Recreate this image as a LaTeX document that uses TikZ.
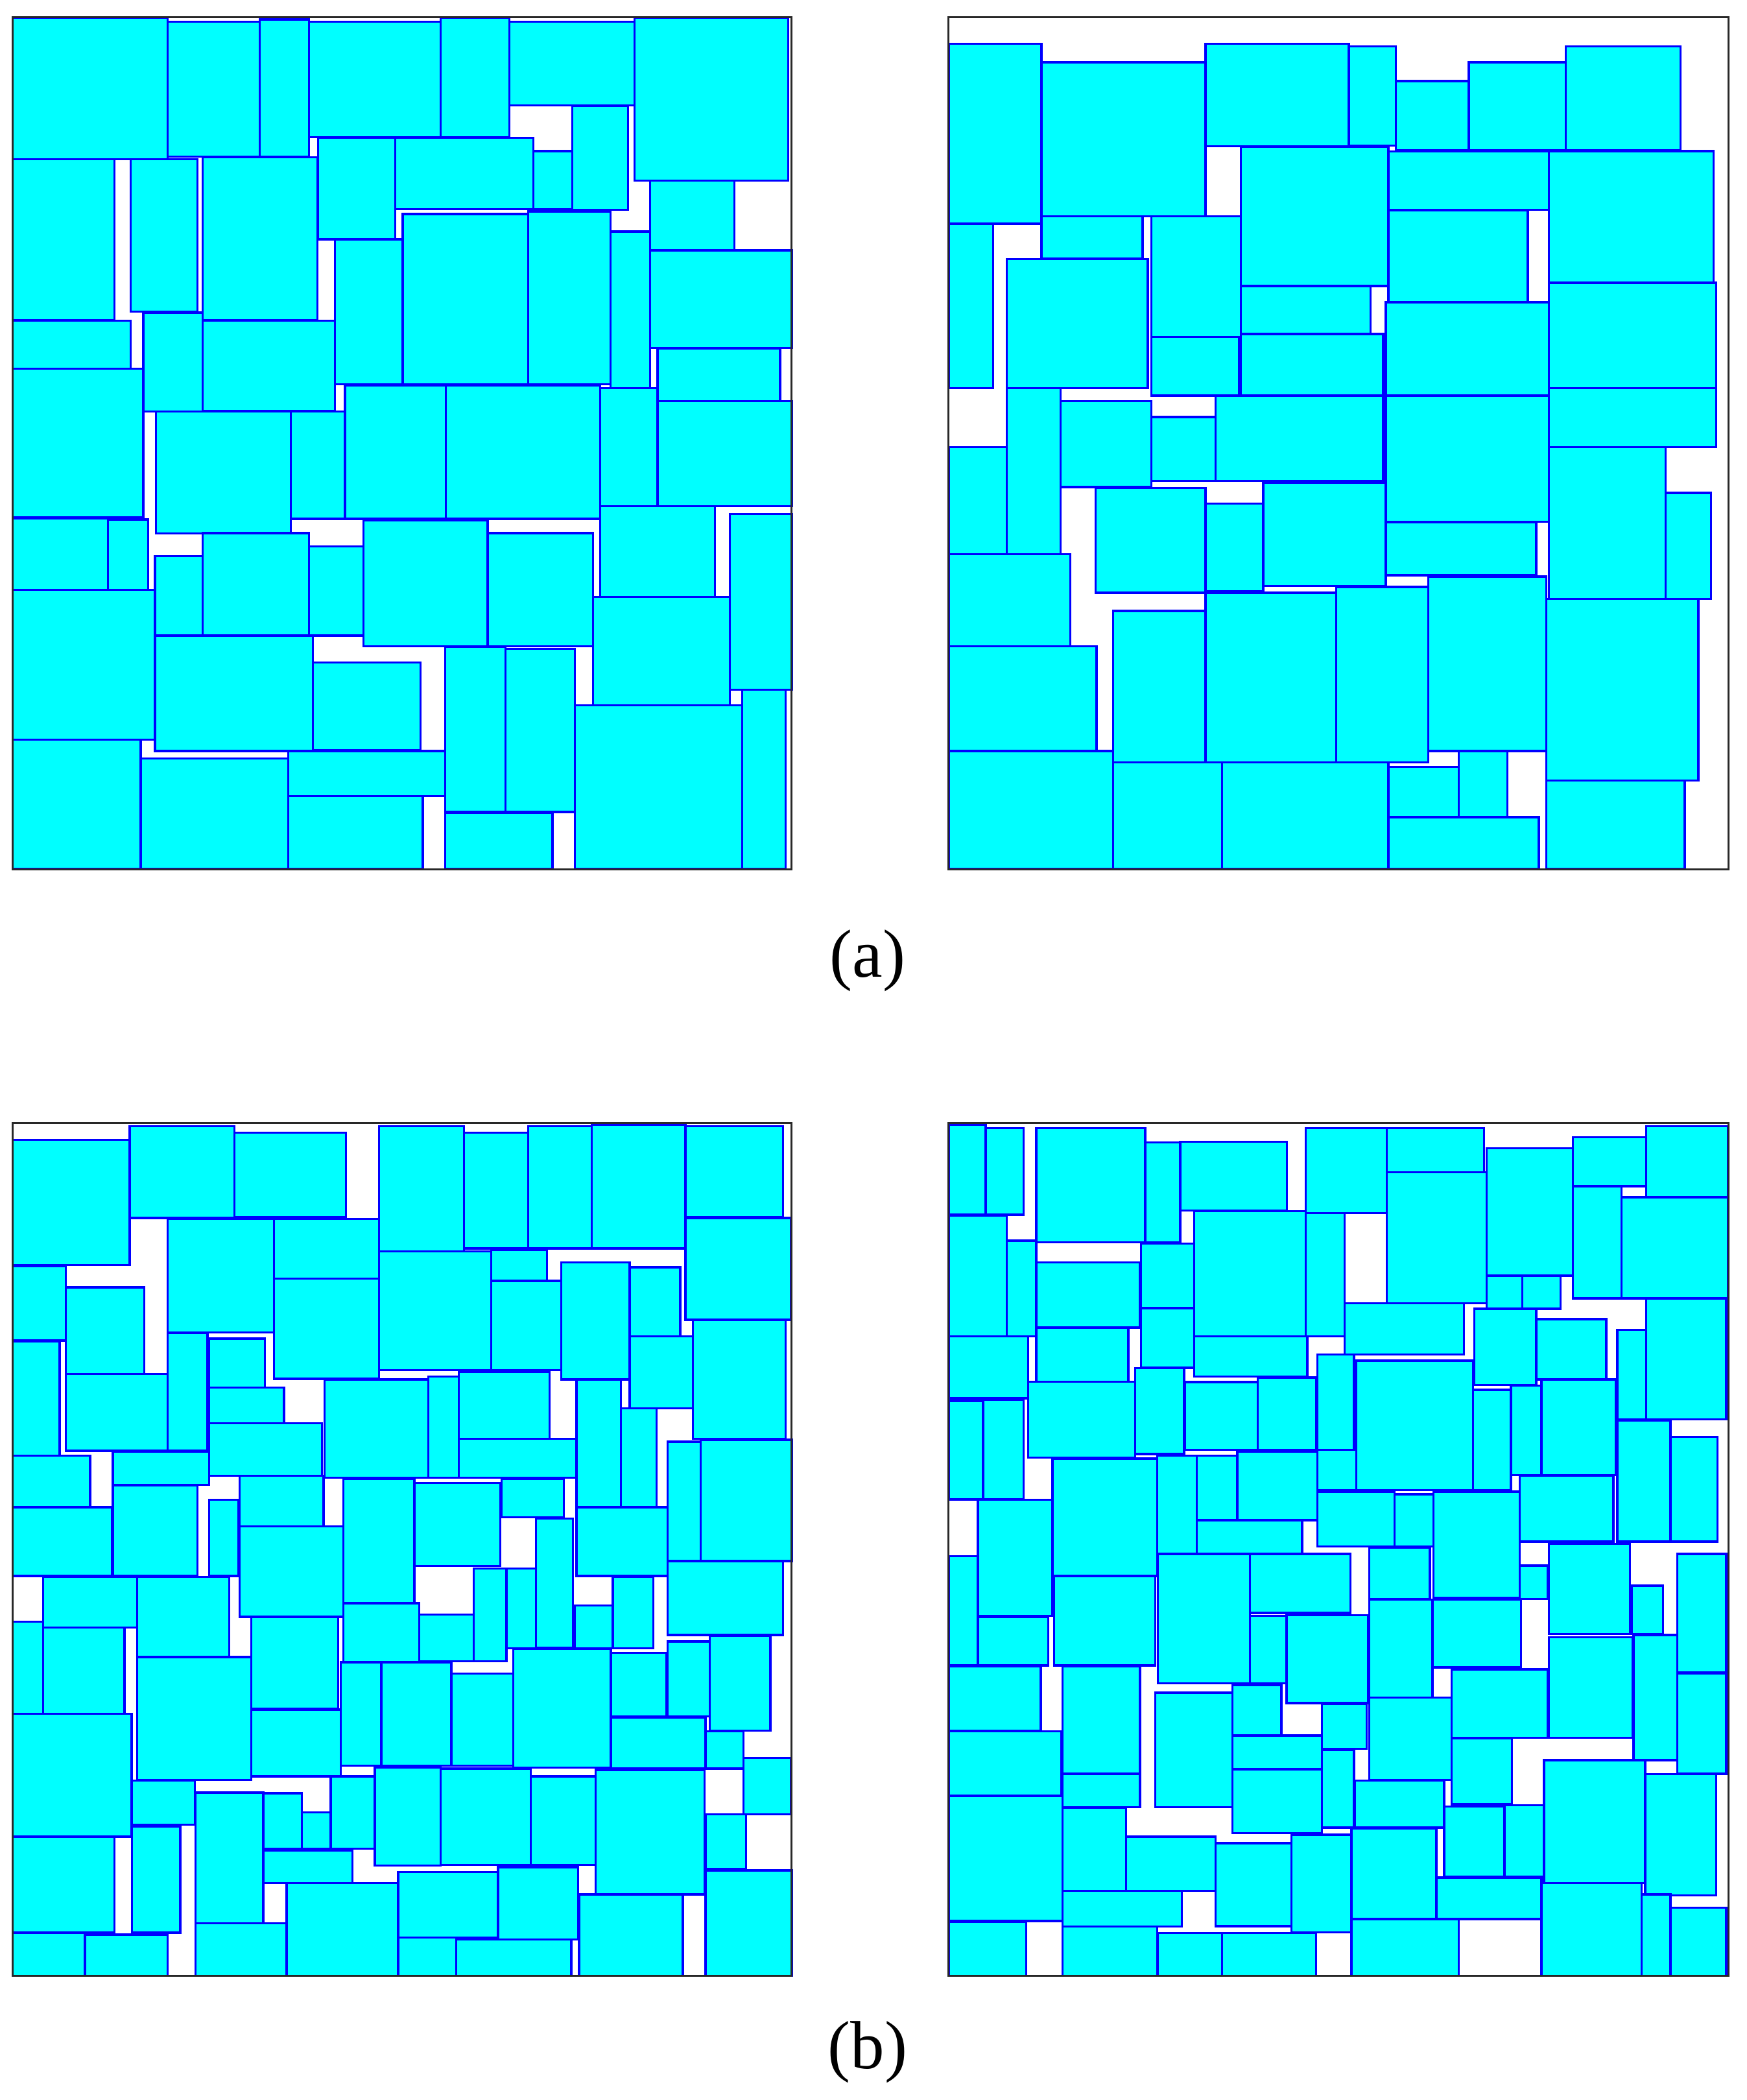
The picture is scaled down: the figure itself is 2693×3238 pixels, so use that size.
\documentclass[tikz,border=0pt]{standalone}
\usepackage{fontspec}
\setmainfont{Liberation Serif}
\definecolor{boxfill}{RGB}{0,255,255}
\definecolor{boxline}{RGB}{0,0,255}
\definecolor{frameline}{RGB}{40,40,40}
\newcommand\lowr[1]{\yoff+1.015*#1}
\newcommand\bxr[4]{\draw[bx] (#1,{#2}) rectangle (#3,{#4});}
\begin{document}
\begin{tikzpicture}[x=1pt,y=-1pt,
  bx/.style={fill=boxfill, draw=boxline, line width=3.4pt},
  frm/.style={draw=frameline, line width=3pt},
  lbl/.style={font=\fontsize{105}{126}\selectfont, anchor=base, inner sep=0pt}]
\useasboundingbox (0,0) rectangle (2693,3238);
% ---------------- panel top-left ----------------
\def\yoff{1533}
\begin{scope}[shift={(10,15)}, xscale=0.78125, yscale=0.4273]
\bxr{12}{28}{318}{540}
\bxr{318}{43}{500}{530}
\bxr{500}{35}{597}{530}
\bxr{597}{43}{857}{460}
\bxr{857}{28}{993}{460}
\bxr{993}{43}{1240}{345}
\bxr{1240}{28}{1543}{617}
\bxr{1117}{347}{1227}{722}
\bxr{1040}{510}{1117}{720}
\bxr{615}{462}{767}{828}
\bxr{767}{462}{1040}{720}
\bxr{12}{540}{213}{1120}
\bxr{245}{540}{377}{1090}
\bxr{387}{533}{614}{1120}
\bxr{12}{1122}{245}{1295}
\bxr{270}{1093}{387}{1450}
\bxr{387}{1122}{648}{1448}
\bxr{12}{1296}{270}{\lowr{295}}
\bxr{648}{828}{782}{1352}
\bxr{782}{737}{1030}{1352}
\bxr{1030}{728}{1192}{1352}
\bxr{1192}{800}{1270}{1365}
\bxr{1270}{617}{1437}{868}
\bxr{1270}{868}{1550}{1220}
\bxr{1285}{1222}{1527}{1413}
\bxr{1285}{1413}{1550}{\lowr{255}}
\bxr{1172}{1365}{1285}{\lowr{255}}
\bxr{867}{1355}{1172}{\lowr{300}}
\bxr{668}{1355}{867}{\lowr{300}}
\bxr{561}{1450}{668}{\lowr{300}}
\bxr{295}{1450}{561}{\lowr{352}}
\bxr{12}{\lowr{297}}{200}{\lowr{552}}
\bxr{200}{\lowr{302}}{280}{\lowr{552}}
\bxr{12}{\lowr{552}}{293}{\lowr{1085}}
\bxr{293}{\lowr{432}}{387}{\lowr{715}}
\bxr{387}{\lowr{350}}{597}{\lowr{715}}
\bxr{597}{\lowr{398}}{705}{\lowr{715}}
\bxr{705}{\lowr{305}}{950}{\lowr{752}}
\bxr{950}{\lowr{350}}{1158}{\lowr{752}}
\bxr{1172}{\lowr{255}}{1398}{\lowr{578}}
\bxr{1428}{\lowr{282}}{1550}{\lowr{907}}
\bxr{1158}{\lowr{578}}{1428}{\lowr{962}}
\bxr{293}{\lowr{715}}{605}{\lowr{1125}}
\bxr{605}{\lowr{810}}{817}{\lowr{1122}}
\bxr{12}{\lowr{1085}}{265}{\lowr{1545}}
\bxr{265}{\lowr{1152}}{556}{\lowr{1545}}
\bxr{556}{\lowr{1125}}{866}{\lowr{1285}}
\bxr{556}{\lowr{1285}}{822}{\lowr{1545}}
\bxr{866}{\lowr{755}}{985}{\lowr{1342}}
\bxr{985}{\lowr{762}}{1122}{\lowr{1342}}
\bxr{866}{\lowr{1345}}{1078}{\lowr{1545}}
\bxr{1122}{\lowr{962}}{1452}{\lowr{1545}}
\bxr{1452}{\lowr{907}}{1538}{\lowr{1545}}
\draw[frm] (12,26) rectangle (1550,{\lowr{1545}});
\end{scope}
% ---------------- panel top-right ----------------
\begin{scope}[shift={(1455,15)}, xscale=0.78125, yscale=0.4273]
\bxr{10}{123}{193}{772}
\bxr{193}{190}{517}{745}
\bxr{517}{123}{800}{492}
\bxr{800}{132}{893}{490}
\bxr{893}{257}{1037}{508}
\bxr{1037}{190}{1228}{508}
\bxr{1228}{132}{1455}{508}
\bxr{10}{772}{98}{1365}
\bxr{193}{745}{393}{898}
\bxr{410}{745}{587}{1180}
\bxr{125}{900}{403}{1365}
\bxr{587}{495}{878}{997}
\bxr{878}{512}{1195}{722}
\bxr{1195}{510}{1520}{985}
\bxr{878}{725}{1153}{1055}
\bxr{587}{997}{843}{1170}
\bxr{410}{1180}{583}{1392}
\bxr{587}{1170}{868}{1392}
\bxr{873}{1055}{1195}{1392}
\bxr{1195}{985}{1525}{1365}
\bxr{1195}{1365}{1525}{\lowr{45}}
\bxr{125}{1365}{231}{\lowr{425}}
\bxr{231}{1413}{410}{\lowr{187}}
\bxr{410}{1470}{537}{\lowr{165}}
\bxr{537}{1392}{868}{\lowr{165}}
\bxr{873}{1392}{1195}{\lowr{310}}
\bxr{10}{\lowr{45}}{125}{\lowr{425}}
\bxr{10}{\lowr{425}}{250}{\lowr{752}}
\bxr{300}{\lowr{190}}{517}{\lowr{562}}
\bxr{517}{\lowr{245}}{631}{\lowr{558}}
\bxr{631}{\lowr{170}}{873}{\lowr{538}}
\bxr{873}{\lowr{312}}{1170}{\lowr{500}}
\bxr{1195}{\lowr{45}}{1425}{\lowr{585}}
\bxr{1425}{\lowr{207}}{1515}{\lowr{585}}
\bxr{10}{\lowr{752}}{302}{\lowr{1125}}
\bxr{335}{\lowr{627}}{517}{\lowr{1165}}
\bxr{517}{\lowr{562}}{775}{\lowr{1165}}
\bxr{775}{\lowr{542}}{957}{\lowr{1165}}
\bxr{957}{\lowr{505}}{1190}{\lowr{1125}}
\bxr{1190}{\lowr{585}}{1490}{\lowr{1230}}
\bxr{10}{\lowr{1125}}{335}{\lowr{1545}}
\bxr{335}{\lowr{1165}}{550}{\lowr{1545}}
\bxr{550}{\lowr{1165}}{878}{\lowr{1545}}
\bxr{878}{\lowr{1182}}{1017}{\lowr{1360}}
\bxr{1017}{\lowr{1125}}{1113}{\lowr{1360}}
\bxr{878}{\lowr{1360}}{1175}{\lowr{1545}}
\bxr{1190}{\lowr{1230}}{1463}{\lowr{1545}}
\draw[frm] (10,26) rectangle (1550,{\lowr{1545}});
\end{scope}
% ---------------- panel bottom-left ----------------
\def\yoff{1544.6}
\begin{scope}[shift={(10,1720)}, xscale=0.78125, yscale=0.4273]
\bxr{12}{88}{243}{540}
\bxr{243}{38}{450}{370}
\bxr{450}{62}{670}{367}
\bxr{735}{38}{903}{490}
\bxr{903}{62}{1030}{480}
\bxr{1030}{38}{1155}{480}
\bxr{1155}{33}{1340}{480}
\bxr{1340}{38}{1533}{367}
\bxr{1340}{370}{1548}{737}
\bxr{318}{373}{528}{783}
\bxr{528}{373}{735}{588}
\bxr{528}{588}{735}{950}
\bxr{735}{490}{957}{918}
\bxr{957}{485}{1067}{597}
\bxr{957}{597}{1095}{918}
\bxr{1095}{530}{1230}{952}
\bxr{1230}{548}{1330}{797}
\bxr{1230}{797}{1355}{1057}
\bxr{1355}{737}{1538}{1167}
\bxr{12}{543}{117}{812}
\bxr{117}{620}{272}{933}
\bxr{12}{815}{105}{1227}
\bxr{117}{933}{318}{1210}
\bxr{318}{785}{397}{1210}
\bxr{400}{805}{510}{982}
\bxr{400}{982}{548}{1110}
\bxr{400}{1110}{623}{1300}
\bxr{628}{952}{833}{1307}
\bxr{833}{942}{893}{1307}
\bxr{893}{925}{1072}{1167}
\bxr{893}{1167}{1125}{1307}
\bxr{1125}{952}{1213}{1413}
\bxr{1213}{1057}{1283}{1413}
\bxr{1305}{1177}{1370}{\lowr{62}}
\bxr{1370}{1170}{1550}{\lowr{62}}
\bxr{12}{1227}{165}{1413}
\bxr{210}{1212}{400}{1333}
\bxr{12}{1413}{208}{\lowr{115}}
\bxr{210}{1335}{377}{\lowr{115}}
\bxr{400}{1387}{458}{\lowr{115}}
\bxr{460}{1300}{626}{1482}
\bxr{460}{1482}{665}{\lowr{260}}
\bxr{665}{1310}{805}{\lowr{212}}
\bxr{805}{1325}{975}{\lowr{80}}
\bxr{977}{1310}{1100}{1450}
\bxr{1045}{1455}{1118}{\lowr{370}}
\bxr{1125}{1413}{1305}{\lowr{115}}
\bxr{12}{\lowr{278}}{72}{\lowr{605}}
\bxr{72}{\lowr{118}}{258}{\lowr{298}}
\bxr{72}{\lowr{298}}{233}{\lowr{605}}
\bxr{258}{\lowr{118}}{440}{\lowr{403}}
\bxr{258}{\lowr{403}}{483}{\lowr{840}}
\bxr{12}{\lowr{605}}{247}{\lowr{1042}}
\bxr{483}{\lowr{262}}{655}{\lowr{587}}
\bxr{483}{\lowr{590}}{660}{\lowr{828}}
\bxr{665}{\lowr{212}}{815}{\lowr{420}}
\bxr{815}{\lowr{252}}{922}{\lowr{418}}
\bxr{922}{\lowr{88}}{987}{\lowr{418}}
\bxr{987}{\lowr{88}}{1045}{\lowr{372}}
\bxr{1122}{\lowr{220}}{1197}{\lowr{372}}
\bxr{1197}{\lowr{118}}{1277}{\lowr{372}}
\bxr{1305}{\lowr{62}}{1533}{\lowr{325}}
\bxr{1388}{\lowr{328}}{1508}{\lowr{665}}
\bxr{1305}{\lowr{348}}{1388}{\lowr{615}}
\bxr{660}{\lowr{422}}{740}{\lowr{790}}
\bxr{740}{\lowr{422}}{878}{\lowr{790}}
\bxr{878}{\lowr{462}}{1000}{\lowr{790}}
\bxr{1000}{\lowr{375}}{1193}{\lowr{797}}
\bxr{1193}{\lowr{388}}{1302}{\lowr{615}}
\bxr{1193}{\lowr{618}}{1380}{\lowr{800}}
\bxr{1380}{\lowr{668}}{1455}{\lowr{800}}
\bxr{1455}{\lowr{762}}{1548}{\lowr{962}}
\bxr{1380}{\lowr{962}}{1460}{\lowr{1157}}
\bxr{1380}{\lowr{1162}}{1550}{\lowr{1537}}
\bxr{1163}{\lowr{805}}{1378}{\lowr{1247}}
\bxr{1130}{\lowr{1247}}{1335}{\lowr{1537}}
\bxr{1035}{\lowr{828}}{1163}{\lowr{1143}}
\bxr{857}{\lowr{800}}{1035}{\lowr{1143}}
\bxr{727}{\lowr{795}}{857}{\lowr{1145}}
\bxr{640}{\lowr{828}}{727}{\lowr{1085}}
\bxr{583}{\lowr{955}}{640}{\lowr{1085}}
\bxr{507}{\lowr{888}}{583}{\lowr{1085}}
\bxr{373}{\lowr{885}}{507}{\lowr{1350}}
\bxr{248}{\lowr{842}}{372}{\lowr{1000}}
\bxr{248}{\lowr{1005}}{343}{\lowr{1383}}
\bxr{12}{\lowr{1042}}{213}{\lowr{1383}}
\bxr{12}{\lowr{1385}}{155}{\lowr{1537}}
\bxr{155}{\lowr{1390}}{318}{\lowr{1537}}
\bxr{507}{\lowr{1090}}{683}{\lowr{1207}}
\bxr{373}{\lowr{1350}}{553}{\lowr{1537}}
\bxr{553}{\lowr{1207}}{773}{\lowr{1537}}
\bxr{773}{\lowr{1167}}{970}{\lowr{1400}}
\bxr{970}{\lowr{1150}}{1128}{\lowr{1408}}
\bxr{773}{\lowr{1400}}{888}{\lowr{1537}}
\bxr{888}{\lowr{1408}}{1115}{\lowr{1537}}
\draw[frm] (12,28) rectangle (1550,{\lowr{1537}});
\end{scope}
% ---------------- panel bottom-right ----------------
\begin{scope}[shift={(1455,1720)}, xscale=0.78125, yscale=0.4273]
\bxr{10}{33}{83}{358}
\bxr{83}{45}{158}{358}
\bxr{183}{45}{398}{458}
\bxr{398}{97}{467}{458}
\bxr{467}{95}{678}{343}
\bxr{715}{45}{875}{352}
\bxr{875}{45}{1067}{205}
\bxr{875}{205}{1072}{677}
\bxr{1072}{118}{1242}{578}
\bxr{1242}{78}{1387}{255}
\bxr{1387}{38}{1548}{295}
\bxr{1242}{255}{1338}{660}
\bxr{1338}{295}{1548}{660}
\bxr{10}{362}{125}{797}
\bxr{125}{452}{183}{797}
\bxr{183}{530}{388}{765}
\bxr{390}{462}{495}{695}
\bxr{495}{345}{715}{797}
\bxr{715}{352}{792}{797}
\bxr{390}{695}{495}{910}
\bxr{183}{765}{365}{960}
\bxr{10}{797}{167}{1020}
\bxr{495}{797}{718}{942}
\bxr{792}{677}{1027}{862}
\bxr{1072}{578}{1142}{697}
\bxr{1142}{578}{1218}{697}
\bxr{1048}{697}{1170}{972}
\bxr{1170}{735}{1308}{952}
\bxr{1387}{660}{1545}{1097}
\bxr{1330}{773}{1387}{1097}
\bxr{738}{862}{810}{1207}
\bxr{815}{885}{1045}{1352}
\bxr{1045}{990}{1120}{1352}
\bxr{1120}{975}{1180}{1297}
\bxr{1180}{952}{1327}{1297}
\bxr{10}{1030}{78}{1385}
\bxr{78}{1025}{158}{1385}
\bxr{167}{960}{378}{1235}
\bxr{378}{912}{475}{1222}
\bxr{477}{962}{620}{1207}
\bxr{620}{945}{735}{1207}
\bxr{738}{1207}{815}{1352}
\bxr{215}{1238}{422}{\lowr{115}}
\bxr{422}{1228}{500}{\lowr{35}}
\bxr{500}{1228}{580}{1460}
\bxr{580}{1212}{738}{1460}
\bxr{500}{1462}{708}{\lowr{35}}
\bxr{738}{1357}{890}{\lowr{10}}
\bxr{890}{1367}{967}{\lowr{10}}
\bxr{967}{1357}{1137}{\lowr{193}}
\bxr{1137}{1300}{1322}{1537}
\bxr{1330}{1100}{1435}{1537}
\bxr{1435}{1160}{1528}{1537}
\bxr{68}{1387}{215}{\lowr{257}}
\bxr{1195}{1545}{1355}{\lowr{322}}
\bxr{10}{\lowr{45}}{68}{\lowr{433}}
\bxr{68}{\lowr{262}}{207}{\lowr{433}}
\bxr{218}{\lowr{117}}{418}{\lowr{433}}
\bxr{423}{\lowr{37}}{605}{\lowr{497}}
\bxr{605}{\lowr{37}}{803}{\lowr{247}}
\bxr{605}{\lowr{257}}{677}{\lowr{497}}
\bxr{677}{\lowr{255}}{838}{\lowr{567}}
\bxr{840}{\lowr{15}}{960}{\lowr{197}}
\bxr{1137}{\lowr{78}}{1193}{\lowr{197}}
\bxr{840}{\lowr{200}}{965}{\lowr{547}}
\bxr{965}{\lowr{200}}{1140}{\lowr{440}}
\bxr{1195}{\lowr{333}}{1360}{\lowr{690}}
\bxr{1358}{\lowr{150}}{1420}{\lowr{322}}
\bxr{1448}{\lowr{37}}{1545}{\lowr{458}}
\bxr{1362}{\lowr{325}}{1448}{\lowr{770}}
\bxr{1448}{\lowr{462}}{1545}{\lowr{818}}
\bxr{10}{\lowr{437}}{192}{\lowr{665}}
\bxr{10}{\lowr{668}}{232}{\lowr{897}}
\bxr{235}{\lowr{437}}{388}{\lowr{818}}
\bxr{235}{\lowr{818}}{388}{\lowr{937}}
\bxr{418}{\lowr{530}}{570}{\lowr{937}}
\bxr{570}{\lowr{503}}{667}{\lowr{682}}
\bxr{570}{\lowr{682}}{747}{\lowr{802}}
\bxr{570}{\lowr{802}}{747}{\lowr{1030}}
\bxr{747}{\lowr{570}}{835}{\lowr{730}}
\bxr{747}{\lowr{733}}{810}{\lowr{1010}}
\bxr{840}{\lowr{547}}{1003}{\lowr{840}}
\bxr{1003}{\lowr{447}}{1193}{\lowr{690}}
\bxr{1003}{\lowr{692}}{1122}{\lowr{927}}
\bxr{812}{\lowr{842}}{988}{\lowr{1010}}
\bxr{988}{\lowr{935}}{1107}{\lowr{1185}}
\bxr{1107}{\lowr{930}}{1185}{\lowr{1185}}
\bxr{1185}{\lowr{770}}{1385}{\lowr{1207}}
\bxr{1385}{\lowr{820}}{1525}{\lowr{1250}}
\bxr{10}{\lowr{897}}{235}{\lowr{1342}}
\bxr{235}{\lowr{940}}{360}{\lowr{1235}}
\bxr{360}{\lowr{1042}}{537}{\lowr{1235}}
\bxr{537}{\lowr{1065}}{687}{\lowr{1360}}
\bxr{687}{\lowr{1035}}{805}{\lowr{1382}}
\bxr{805}{\lowr{1012}}{973}{\lowr{1335}}
\bxr{973}{\lowr{1187}}{1180}{\lowr{1335}}
\bxr{1180}{\lowr{1207}}{1378}{\lowr{1537}}
\bxr{1378}{\lowr{1247}}{1435}{\lowr{1537}}
\bxr{1435}{\lowr{1295}}{1545}{\lowr{1537}}
\bxr{235}{\lowr{1235}}{470}{\lowr{1362}}
\bxr{10}{\lowr{1345}}{163}{\lowr{1537}}
\bxr{235}{\lowr{1362}}{422}{\lowr{1537}}
\bxr{423}{\lowr{1385}}{550}{\lowr{1537}}
\bxr{550}{\lowr{1385}}{735}{\lowr{1537}}
\bxr{805}{\lowr{1335}}{1017}{\lowr{1537}}
\draw[frm] (10,28) rectangle (1550,{\lowr{1537}});
\end{scope}
% ---------------- labels ----------------
\node[lbl] (la) at (1338,1506) {(a)};
\node[lbl] (lb) at (1338,3189) {(b)};
\end{tikzpicture}
\end{document}
